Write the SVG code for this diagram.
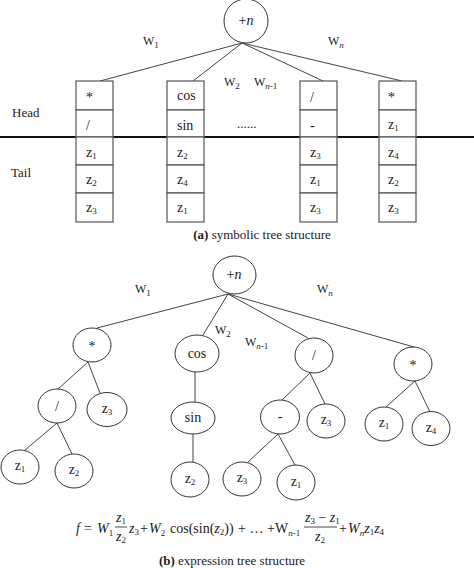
<svg xmlns="http://www.w3.org/2000/svg" width="474" height="568" viewBox="0 0 474 568">
<style>
text{font-family:"Liberation Serif","Times New Roman",serif;fill:#1a1a1a;font-size:14px}
.c{text-anchor:middle}
.lab{font-size:13px}
.w{font-size:12px}
.sub{font-size:9px}
.i{font-style:italic}
.b{font-weight:bold}
.cell{fill:#fff;stroke:#555;stroke-width:1.2}
.e{fill:#fff;stroke:#333;stroke-width:1}
.ln{stroke:#444;stroke-width:1;fill:none}
</style>
<rect width="474" height="568" fill="#fff"/>

<!-- (a) symbolic tree -->
<g id="connectors-a">
<line class="ln" x1="242" y1="43" x2="100" y2="81"/>
<line class="ln" x1="242" y1="43" x2="193" y2="81"/>
<line class="ln" x1="242" y1="43" x2="323" y2="81"/>
<line class="ln" x1="242" y1="43" x2="402" y2="81"/>
</g>
<g id="root-a">
<ellipse class="e" cx="246" cy="21" rx="22" ry="22"/>
<text class="c" x="246" y="25">+<tspan class="i">n</tspan></text>
</g>
<g id="weights-a">
<text class="w" x="143" y="45">W<tspan class="sub" dy="3">1</tspan></text>
<text class="w" x="328" y="45">W<tspan class="sub i" dy="3">n</tspan></text>
<text class="w" x="224" y="86">W<tspan class="sub" dy="3">2</tspan></text>
<text class="w" x="254" y="86">W<tspan class="sub" dy="3"><tspan class="i">n</tspan>-1</tspan></text>
<text class="lab" x="237" y="128">......</text>
</g>
<g id="head-tail">
<line x1="0" y1="137" x2="474" y2="137" stroke="#111" stroke-width="2"/>
<text class="lab" x="12" y="117">Head</text>
<text class="lab" x="11" y="177">Tail</text>
</g>
<g id="column1">
<rect class="cell" x="76" y="81" width="37" height="29"/>
<rect class="cell" x="76" y="110" width="37" height="27"/>
<rect class="cell" x="76" y="137" width="37" height="28"/>
<rect class="cell" x="76" y="165" width="37" height="28"/>
<rect class="cell" x="76" y="193" width="37" height="29"/>
<text x="86" y="102">*</text>
<text x="86" y="130">/</text>
<text x="86" y="157">z<tspan class="sub" dy="2">1</tspan></text>
<text x="86" y="184">z<tspan class="sub" dy="2">2</tspan></text>
<text x="86" y="212">z<tspan class="sub" dy="2">3</tspan></text>
</g>
<g id="column2">
<rect class="cell" x="167" y="81" width="37" height="29"/>
<rect class="cell" x="167" y="110" width="37" height="27"/>
<rect class="cell" x="167" y="137" width="37" height="28"/>
<rect class="cell" x="167" y="165" width="37" height="28"/>
<rect class="cell" x="167" y="193" width="37" height="29"/>
<text x="177" y="100">cos</text>
<text x="177" y="130">sin</text>
<text x="177" y="157">z<tspan class="sub" dy="2">2</tspan></text>
<text x="177" y="184">z<tspan class="sub" dy="2">4</tspan></text>
<text x="177" y="212">z<tspan class="sub" dy="2">1</tspan></text>
</g>
<g id="column3">
<rect class="cell" x="300" y="81" width="37" height="29"/>
<rect class="cell" x="300" y="110" width="37" height="27"/>
<rect class="cell" x="300" y="137" width="37" height="28"/>
<rect class="cell" x="300" y="165" width="37" height="28"/>
<rect class="cell" x="300" y="193" width="37" height="29"/>
<text x="310" y="102">/</text>
<text x="310" y="130">-</text>
<text x="310" y="157">z<tspan class="sub" dy="2">3</tspan></text>
<text x="310" y="184">z<tspan class="sub" dy="2">1</tspan></text>
<text x="310" y="212">z<tspan class="sub" dy="2">3</tspan></text>
</g>
<g id="column4">
<rect class="cell" x="379" y="81" width="37" height="29"/>
<rect class="cell" x="379" y="110" width="37" height="27"/>
<rect class="cell" x="379" y="137" width="37" height="28"/>
<rect class="cell" x="379" y="165" width="37" height="28"/>
<rect class="cell" x="379" y="193" width="37" height="29"/>
<text x="388" y="102">*</text>
<text x="388" y="129">z<tspan class="sub" dy="2">1</tspan></text>
<text x="388" y="157">z<tspan class="sub" dy="2">4</tspan></text>
<text x="388" y="184">z<tspan class="sub" dy="2">2</tspan></text>
<text x="388" y="212">z<tspan class="sub" dy="2">3</tspan></text>
</g>
<text class="lab c" x="262" y="239"><tspan class="b">(a)</tspan> symbolic tree structure</text>

<!-- (b) expression tree -->
<g id="connectors-b">
<line class="ln" x1="228" y1="294" x2="97" y2="328"/>
<line class="ln" x1="228" y1="294" x2="203" y2="335"/>
<line class="ln" x1="228" y1="294" x2="308" y2="338"/>
<line class="ln" x1="228" y1="294" x2="414" y2="347"/>
<line class="ln" x1="88" y1="362" x2="58" y2="389"/>
<line class="ln" x1="88" y1="362" x2="100" y2="393"/>
<line class="ln" x1="57" y1="423" x2="25" y2="450"/>
<line class="ln" x1="57" y1="423" x2="72" y2="454"/>
<line class="ln" x1="195" y1="372" x2="195" y2="402"/>
<line class="ln" x1="193" y1="434" x2="193" y2="462"/>
<line class="ln" x1="310" y1="373" x2="282" y2="400"/>
<line class="ln" x1="310" y1="373" x2="325" y2="404"/>
<line class="ln" x1="278" y1="434" x2="248" y2="462"/>
<line class="ln" x1="278" y1="434" x2="295" y2="465"/>
<line class="ln" x1="415" y1="381" x2="386" y2="407"/>
<line class="ln" x1="415" y1="381" x2="430" y2="412"/>
</g>
<g id="weights-b">
<text class="w" x="135" y="293">W<tspan class="sub" dy="3">1</tspan></text>
<text class="w" x="317" y="293">W<tspan class="sub i" dy="3">n</tspan></text>
<text class="w" x="215" y="334">W<tspan class="sub" dy="3">2</tspan></text>
<text class="w" x="245" y="346">W<tspan class="sub" dy="3"><tspan class="i">n</tspan>-1</tspan></text>
</g>
<g id="root-b"><ellipse class="e" cx="234.5" cy="275" rx="21.5" ry="19"/><text class="c" x="234" y="279">+<tspan class="i">n</tspan></text></g>
<g id="mul-1"><ellipse class="e" cx="92" cy="345" rx="19" ry="17"/><text class="c" x="92" y="351">*</text></g>
<g id="cos"><ellipse class="e" cx="197" cy="353.5" rx="22" ry="18.5"/><text class="c" x="197" y="358">cos</text></g>
<g id="div-2"><ellipse class="e" cx="314" cy="355.5" rx="19" ry="17.5"/><text class="c" x="314" y="360">/</text></g>
<g id="mul-2"><ellipse class="e" cx="413" cy="364" rx="19" ry="17"/><text class="c" x="413" y="370">*</text></g>
<g id="div-1"><ellipse class="e" cx="57" cy="406" rx="19" ry="17"/><text class="c" x="57" y="411">/</text></g>
<g id="z3-a"><ellipse class="e" cx="107" cy="409.5" rx="20" ry="17"/><text class="c" x="107" y="413">z<tspan class="sub" dy="2">3</tspan></text></g>
<g id="sin"><ellipse class="e" cx="193" cy="418" rx="22" ry="16"/><text class="c" x="193" y="422">sin</text></g>
<g id="minus"><ellipse class="e" cx="280" cy="417" rx="19.5" ry="17"/><text class="c" x="280" y="421">-</text></g>
<g id="z3-b"><ellipse class="e" cx="326" cy="421" rx="19" ry="17"/><text class="c" x="326" y="424">z<tspan class="sub" dy="2">3</tspan></text></g>
<g id="z1-a"><ellipse class="e" cx="384" cy="424" rx="19" ry="17"/><text class="c" x="384" y="427">z<tspan class="sub" dy="2">1</tspan></text></g>
<g id="z4"><ellipse class="e" cx="431" cy="428.5" rx="19" ry="17"/><text class="c" x="431" y="432">z<tspan class="sub" dy="2">4</tspan></text></g>
<g id="z1-b"><ellipse class="e" cx="20" cy="467" rx="19" ry="17"/><text class="c" x="20" y="470">z<tspan class="sub" dy="2">1</tspan></text></g>
<g id="z2-a"><ellipse class="e" cx="74" cy="471" rx="19" ry="17"/><text class="c" x="74" y="474">z<tspan class="sub" dy="2">2</tspan></text></g>
<g id="z2-b"><ellipse class="e" cx="190" cy="479.5" rx="19" ry="17.5"/><text class="c" x="190" y="483">z<tspan class="sub" dy="2">2</tspan></text></g>
<g id="z3-c"><ellipse class="e" cx="242" cy="479" rx="19" ry="17"/><text class="c" x="242" y="482">z<tspan class="sub" dy="2">3</tspan></text></g>
<g id="z1-c"><ellipse class="e" cx="296" cy="482.5" rx="19" ry="17.5"/><text class="c" x="296" y="486">z<tspan class="sub" dy="2">1</tspan></text></g>

<g id="formula">
<text x="76" y="533" class="i">f</text>
<text x="84" y="533">=</text>
<text x="97" y="533"><tspan class="i">W</tspan><tspan class="sub" dy="3">1</tspan></text>
<text x="116" y="522"><tspan class="i">z</tspan><tspan class="sub" dy="2">1</tspan></text>
<line x1="115" y1="527" x2="127" y2="527" stroke="#1a1a1a" stroke-width="0.8"/>
<text x="116" y="541"><tspan class="i">z</tspan><tspan class="sub" dy="2">2</tspan></text>
<text x="129" y="533"><tspan class="i">z</tspan><tspan class="sub" dy="2">3</tspan></text>
<text x="140" y="533">+</text>
<text x="149" y="533"><tspan class="i">W</tspan><tspan class="sub" dy="3">2</tspan></text>
<text x="170" y="533">cos(sin(<tspan class="i">z</tspan><tspan class="sub" dy="2">2</tspan><tspan dy="-2">))</tspan></text>
<text x="238" y="533">+ … +</text>
<text x="275" y="533">W<tspan class="sub" dy="3"><tspan class="i">n</tspan>-1</tspan></text>
<text x="305" y="522"><tspan class="i">z</tspan><tspan class="sub" dy="2">3</tspan><tspan dy="-2"> − </tspan><tspan class="i">z</tspan><tspan class="sub" dy="2">1</tspan></text>
<line x1="304" y1="527" x2="337" y2="527" stroke="#1a1a1a" stroke-width="0.8"/>
<text x="315" y="541"><tspan class="i">z</tspan><tspan class="sub" dy="2">2</tspan></text>
<text x="339" y="533">+</text>
<text x="348" y="533"><tspan class="i">W</tspan><tspan class="sub i" dy="3">n</tspan><tspan class="i" dy="-3">z</tspan><tspan class="sub" dy="2">1</tspan><tspan class="i" dy="-2">z</tspan><tspan class="sub" dy="2">4</tspan></text>
</g>
<text class="lab c" x="232" y="565"><tspan class="b">(b)</tspan> expression tree structure</text>
</svg>
